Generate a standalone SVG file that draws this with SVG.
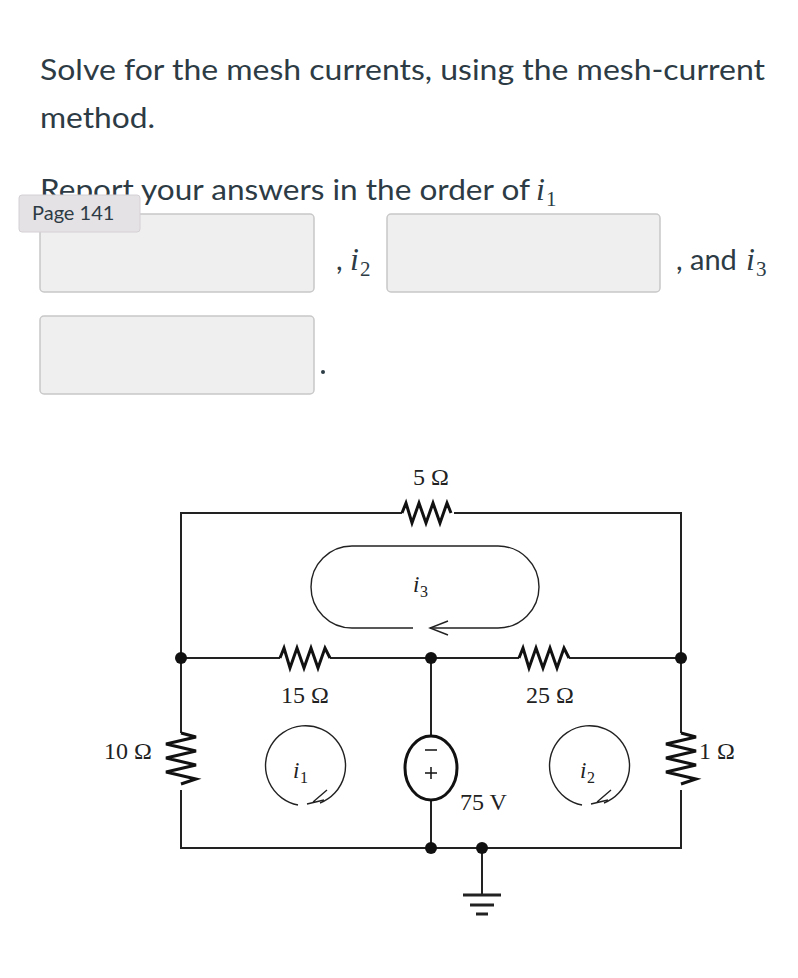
<svg xmlns="http://www.w3.org/2000/svg" width="798" height="978" viewBox="0 0 798 978">
<style>
.q{font-family:Lato,"Liberation Sans",sans-serif;font-size:29px;fill:#2d3b45}
.m{font-family:"Liberation Serif",serif;font-style:italic;font-size:32px;fill:#2d3b45}
.sb{font-family:"Liberation Serif",serif;font-size:21px;fill:#2d3b45}
.box{fill:#efefef;stroke:#c8c8c8;stroke-width:1.5}
.w{fill:none;stroke:#222;stroke-width:2}
.r{fill:none;stroke:#111;stroke-width:3;stroke-linejoin:miter}
.t{font-family:"Liberation Serif",serif;font-size:24px;fill:#222}
.ti{font-family:"Liberation Serif",serif;font-style:italic;font-size:23px;fill:#222}
.sub{font-family:"Liberation Serif",serif;font-size:16px;fill:#222}
.dot{fill:#111}
.loop{fill:none;stroke:#222;stroke-width:1.4}
</style>
<rect width="798" height="978" fill="#fff"/>
<g id="question">
<text class="q" x="40" y="80" textLength="725" lengthAdjust="spacingAndGlyphs">Solve for the mesh currents, using the mesh-current</text>
<text class="q" x="40" y="128" textLength="115" lengthAdjust="spacingAndGlyphs">method.</text>
<text class="q" x="40" y="200" textLength="490" lengthAdjust="spacingAndGlyphs">Report your answers in the order of</text>
<text class="m" x="536" y="200">i</text><text class="sb" x="546" y="206">1</text>
<rect class="box" x="40" y="214" width="274" height="78" rx="4"/>
<text class="q" x="336" y="270">,</text><text class="m" x="350" y="270">i</text><text class="sb" x="360" y="276">2</text>
<rect class="box" x="387" y="214" width="273" height="78" rx="4"/>
<text class="q" x="676" y="270">, and</text><text class="m" x="746" y="270">i</text><text class="sb" x="756" y="276">3</text>
<rect class="box" x="40" y="316" width="274" height="78" rx="4"/>
<circle cx="323" cy="372" r="2" fill="#2d3b45"/>
</g>
<g id="tooltip">
<rect x="19" y="195" width="121" height="37" rx="3" fill="#e5e2e5" stroke="#d4d0d4"/>
<text x="32" y="220" font-family="Lato,'Liberation Sans',sans-serif" font-size="20" fill="#2d3b45">Page 141</text>
</g>
<g id="connectors">
<path class="w" d="M181 658 V513 H402 M454 513 H681 V658"/>
<path class="w" d="M181 658 H280 M330 658 H519 M569 658 H681"/>
<path class="w" d="M181 658 V733 M181 790 V848 H681 V790 M681 733 V658"/>
<path class="w" d="M431 658 V736 M431 800 V848"/>
<path class="w" d="M482 848 V895"/>
</g>
<g id="R5">
<path class="r" d="M402 513 l4 -10 l6 20 l7 -20 l7 20 l7 -20 l7 20 l7 -20 l4 10"/>
<text class="t" x="431" y="485" text-anchor="middle">5 Ω</text>
</g>
<g id="R15">
<path class="r" d="M280 658 l4 -10 l6 20 l7 -20 l7 20 l7 -20 l7 20 l7 -20 l5 10"/>
<text class="t" x="305" y="703" text-anchor="middle">15 Ω</text>
</g>
<g id="R25">
<path class="r" d="M519 658 l4 -10 l6 20 l7 -20 l7 20 l7 -20 l7 20 l7 -20 l5 10"/>
<text class="t" x="550" y="703" text-anchor="middle">25 Ω</text>
</g>
<g id="R10">
<path class="r" d="M181 733 l15 4 l-30 7 l30 7 l-30 7 l30 7 l-30 7 l30 7 l-15 5"/>
<text class="t" x="104" y="759">10 Ω</text>
</g>
<g id="R1">
<path class="r" d="M681 733 l15 4 l-30 7 l30 7 l-30 7 l30 7 l-30 7 l30 7 l-15 5"/>
<text class="t" x="699" y="759">1 Ω</text>
</g>
<g id="V75">
<ellipse cx="431" cy="768" rx="26" ry="32" fill="#fff" stroke="#111" stroke-width="3"/>
<path d="M425 750 h12 M425 773 h12 M431 767 v12" stroke="#111" stroke-width="1.5"/>
<text class="t" x="460" y="810">75 V</text>
</g>
<g id="nodes">
<circle class="dot" cx="181" cy="658" r="6"/>
<circle class="dot" cx="431" cy="658" r="6"/>
<circle class="dot" cx="681" cy="658" r="6"/>
<circle class="dot" cx="431" cy="848" r="6"/>
<circle class="dot" cx="482" cy="848" r="6"/>
</g>
<g id="ground">
<path d="M463 895 h38 M470 905 h24 M476 914 h12" stroke="#222" stroke-width="3"/>
</g>
<g id="loop3">
<path class="loop" d="M413 628 H352 A41 41 0 0 1 352 546 H498 A41 41 0 0 1 498 628 H430"/>
<path class="loop" d="M448 621 L430 628 L448 635"/>
<text class="ti" x="413" y="592">i</text><text class="sub" x="420" y="597">3</text>
</g>
<g id="loop1">
<path class="loop" d="M298 805 A40 40 0 1 1 320 803"/>
<path class="loop" d="M307 804 L324 800 M313 802 L327 790"/>
<text class="ti" x="293" y="778">i</text><text class="sub" x="300" y="783">1</text>
</g>
<g id="loop2">
<path class="loop" d="M582 805 A40 40 0 1 1 604 803"/>
<path class="loop" d="M591 804 L608 800 M597 802 L611 790"/>
<text class="ti" x="580" y="778">i</text><text class="sub" x="587" y="783">2</text>
</g>
</svg>
